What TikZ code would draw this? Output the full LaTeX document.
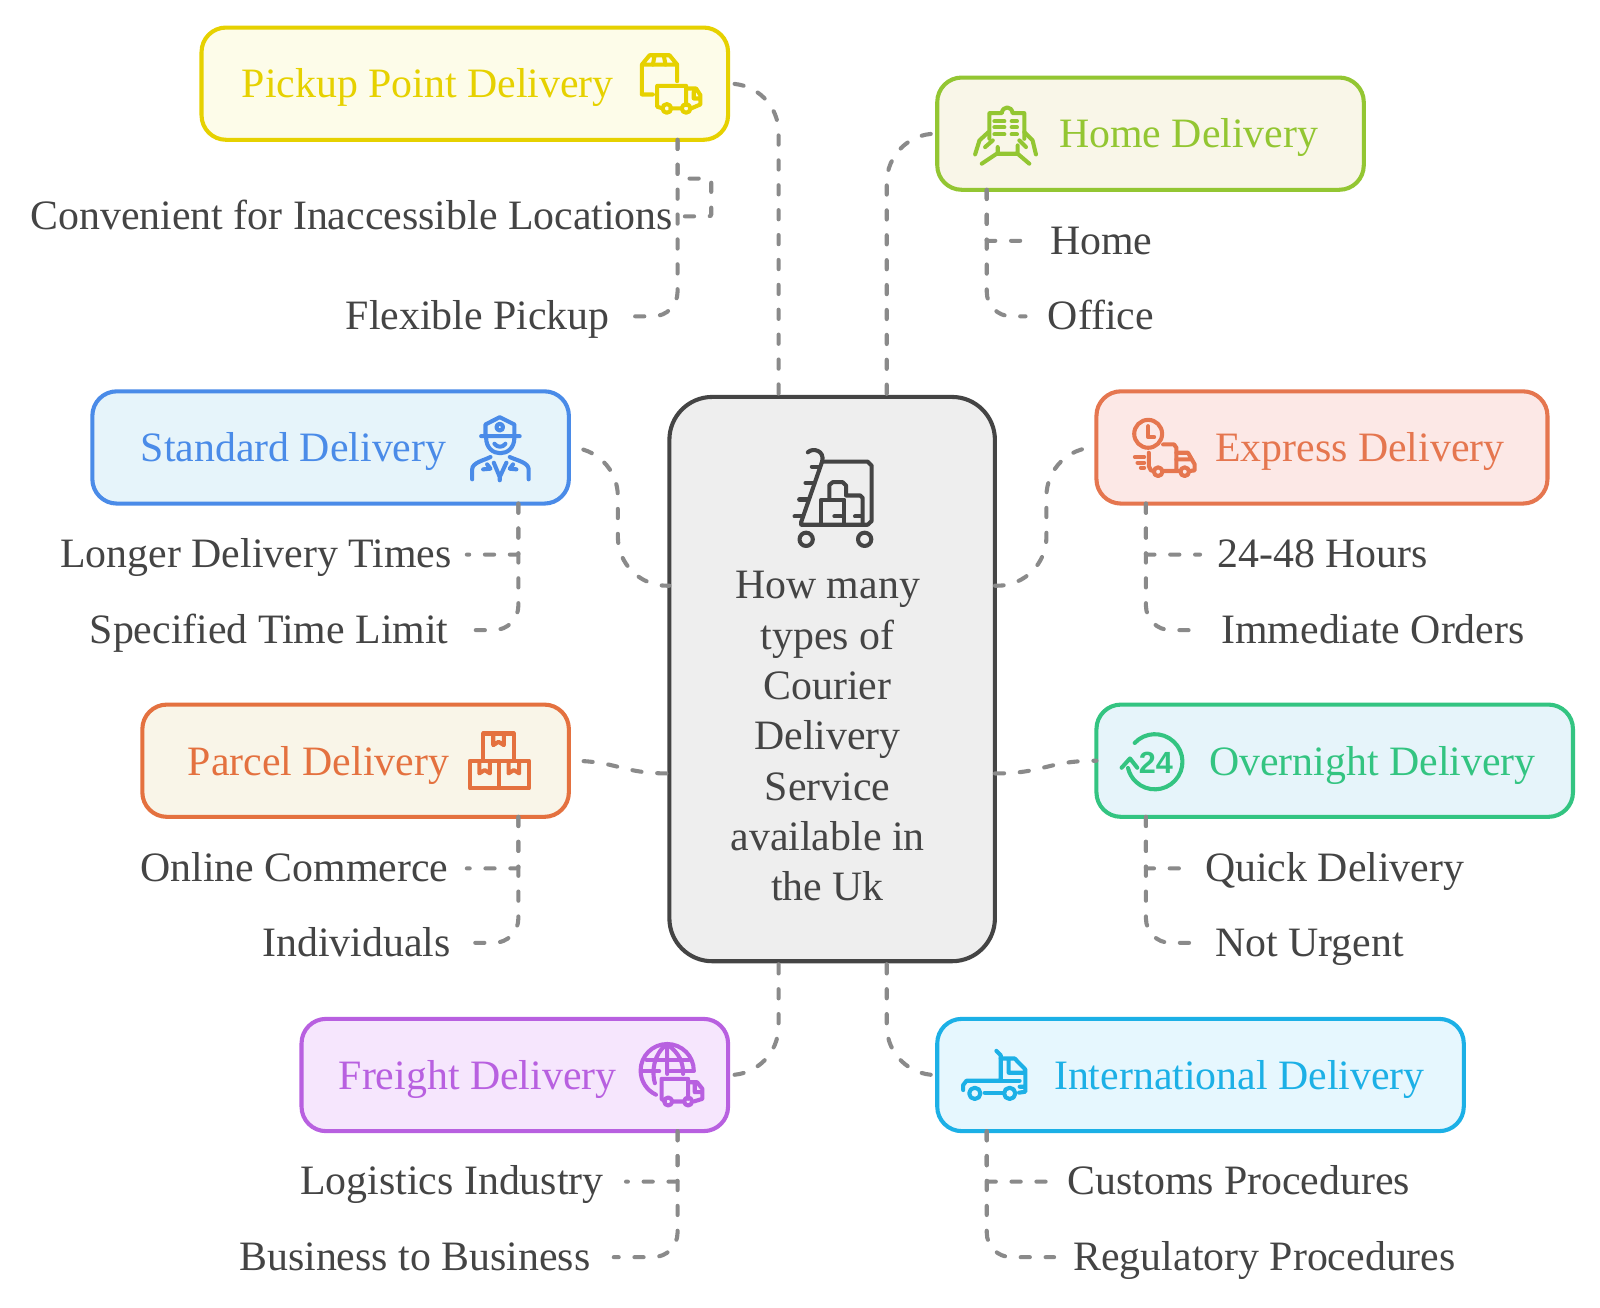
\documentclass[tikz,border=0pt]{standalone}
\usepackage{fontspec}
\setmainfont{Liberation Serif}
\newfontfamily\iconsans{Liberation Sans}
\usetikzlibrary{calc}
\definecolor{ink}{HTML}{444444}
\definecolor{conngray}{HTML}{8A8A8A}
\definecolor{cYel}{HTML}{E6D100}\definecolor{fYel}{HTML}{FDFCE9}
\definecolor{cGrn}{HTML}{93C632}\definecolor{fGrn}{HTML}{F9F6E8}
\definecolor{cBlu}{HTML}{4A8BE8}\definecolor{fBlu}{HTML}{E6F4FA}
\definecolor{cExp}{HTML}{E5764F}\definecolor{fExp}{HTML}{FCE8E6}
\definecolor{cPar}{HTML}{E4713F}\definecolor{fPar}{HTML}{F9F5E8}
\definecolor{cOvr}{HTML}{33C481}\definecolor{fOvr}{HTML}{E6F4FA}
\definecolor{cFre}{HTML}{B860E0}\definecolor{fFre}{HTML}{F6E6FD}
\definecolor{cInt}{HTML}{1CB0E6}\definecolor{fInt}{HTML}{E6F7FE}
\tikzset{
  txt/.style={font=\fontsize{41}{49}\selectfont,text height=32pt,text depth=6pt,inner sep=0pt,outer sep=0pt},
  lab/.style={txt,text=ink},
  catbox/.style n args={3}{txt,text height=33pt,text depth=5pt,draw=#1,fill=#2,text=#1,line width=4pt,rounded corners=24pt,minimum height=110pt,text width=#3,align=flush left},
  hub/.style={draw=ink,fill=black!6.5,line width=4pt,rounded corners=42pt,minimum width=319pt,minimum height=553pt,inner sep=0pt,outer sep=0pt,text=ink},
  conn/.style={draw=conngray,line width=4pt,line cap=round,dash pattern=on 9pt off 15.4pt},
  connGap/.style={conn,dash phase=18pt},
  connSide/.style={conn,dash phase=10pt},
  icon/.style={line width=4pt,line cap=round,line join=round},
  small/.style={shift={(#1)},x=0.3256pt,y=-0.3256pt}
}
\begin{document}
\begin{tikzpicture}[x=1pt,y=-1pt]
\useasboundingbox[fill=white] (0,0) rectangle (1568,1280.9);

% hub
\node[hub] (center) at (815.5,665.5) {\hspace{-9pt}\fontsize{41}{49.3}\selectfont\begin{tabular}{@{}c@{}}\rule{0pt}{104pt}\\How many\\types of\\Courier\\Delivery\\Service\\available in\\the Uk\end{tabular}};

% category boxes
\node[catbox={cYel}{fYel}{516pt}] (pick) at (455.5,82) {\hspace*{39.5pt}Pickup Point Delivery};
\node[catbox={cGrn}{fGrn}{418pt}] (home) at (1127.5,131) {\hspace*{119.5pt}Home Delivery};
\node[catbox={cBlu}{fBlu}{467pt}] (std) at (324,438.5) {\hspace*{47.5pt}Standard Delivery};
\node[catbox={cExp}{fExp}{442pt}] (exp) at (1295.5,438.5) {\hspace*{116.5pt}Express Delivery};
\node[catbox={cPar}{fPar}{418pt}] (parcel) at (348.5,745.5) {\hspace*{44.5pt}Parcel Delivery};
\node[catbox={cOvr}{fOvr}{467pt}] (over) at (1308,745.5) {\hspace*{110.5pt}Overnight Delivery};
\node[catbox={cFre}{fFre}{418pt}] (freight) at (504.5,1053.5) {\hspace*{36.5pt}Freight Delivery};
\node[catbox={cInt}{fInt}{516pt}] (intl) at (1176.5,1053.5) {\hspace*{114.5pt}International Delivery};

% leaf labels
\node[lab,anchor=east] (conv) at (659.5,212) {Convenient for Inaccessible Locations};
\node[lab,anchor=east] (flex) at (597.5,310) {Flexible Pickup};
\node[lab,anchor=west] (homeA) at (1029,236) {Home};
\node[lab,anchor=west] (homeB) at (1027,310) {Office};
\node[lab,anchor=east] (stdA) at (442.5,543.5) {Longer Delivery Times};
\node[lab,anchor=east] (stdB) at (439.5,617.5) {Specified Time Limit};
\node[lab,anchor=west] (expA) at (1193,543.5) {24-48 Hours};
\node[lab,anchor=west] (expB) at (1197,617.5) {Immediate Orders};
\node[lab,anchor=east] (parA) at (439.5,851) {Online Commerce};
\node[lab,anchor=east] (parB) at (441.5,924) {Individuals};
\node[lab,anchor=west] (ovrA) at (1181,851) {Quick Delivery};
\node[lab,anchor=west] (ovrB) at (1191,924) {Not Urgent};
\node[lab,anchor=east] (freA) at (591.5,1158) {Logistics Industry};
\node[lab,anchor=east] (freB) at (578.5,1232) {Business to Business};
\node[lab,anchor=west] (intA) at (1046,1158) {Customs Procedures};
\node[lab,anchor=west] (intB) at (1052,1232) {Regulatory Procedures};

% attachment points
\coordinate (cTL) at ($(center.north)+(-52.5,0)$);
\coordinate (cTR) at ($(center.north)+(53.5,0)$);
\coordinate (cBL) at ($(center.south)+(-52.5,0)$);
\coordinate (cBR) at ($(center.south)+(53.5,0)$);
\coordinate (cLu) at ($(center.west)+(0,-91.5)$);
\coordinate (cRu) at ($(center.east)+(0,-91.5)$);
\coordinate (cLd) at ($(center.west)+(0,92.5)$);
\coordinate (cRd) at ($(center.east)+(0,92.5)$);
\coordinate (pickT) at ($(pick.south)+(208.5,0)$);
\coordinate (homeT) at ($(home.south)+(-160.5,0)$);
\coordinate (stdT) at ($(std.south)+(184,0)$);
\coordinate (expT) at ($(exp.south)+(-172.5,0)$);
\coordinate (parT) at ($(parcel.south)+(159.5,0)$);
\coordinate (ovrT) at ($(over.south)+(-185,0)$);
\coordinate (freT) at ($(freight.south)+(159.5,0)$);
\coordinate (intT) at ($(intl.south)+(-209.5,0)$);

% main connectors
\draw[connGap,rounded corners=48pt] (pick.east) -| (cTL);
\draw[connGap,rounded corners=48pt] (home.west) -| (cTR);
\draw[connGap,rounded corners=48pt] (freight.east) -| (cBL);
\draw[connGap,rounded corners=48pt] (intl.west) -| (cBR);
\draw[connSide,rounded corners=48pt] (std.east) -- ++(48,0) |- (cLu);
\draw[connSide,rounded corners=48pt] (exp.west) -- ++(-49,0) |- (cRu);
\draw[connSide] (parcel.east) .. controls +(49,0) and +(-49,0) .. (cLd);
\draw[conn] (cRd) .. controls +(49,0) and +(-49,0) .. (over.west);

% leaf connectors
\draw[conn,rounded corners=2pt] (pickT) -- ++(0,38) -- ++(33,0) |- ($(conv.east)+(7,0)$);
\draw[conn,rounded corners=24pt] (pickT) |- ($(flex.east)+(21,0)$);
\draw[conn,rounded corners=1pt] (homeT) |- ($(homeA.west)+(-24,0)$);
\draw[conn,rounded corners=24pt] (homeT) |- ($(homeB.west)+(-22,0)$);
\draw[conn,rounded corners=1pt] (stdT) |- ($(stdA.east)+(15,0)$);
\draw[conn,rounded corners=24pt] (stdT) |- ($(stdB.east)+(24,0)$);
\draw[conn,rounded corners=1pt] (expT) |- ($(expA.west)+(-17,0)$);
\draw[conn,rounded corners=24pt] (expT) |- ($(expB.west)+(-25,0)$);
\draw[conn,rounded corners=1pt] (parT) |- ($(parA.east)+(18,0)$);
\draw[conn,rounded corners=24pt] (parT) |- ($(parB.east)+(22,0)$);
\draw[conn,rounded corners=1pt] (ovrT) |- ($(ovrA.west)+(-21,0)$);
\draw[conn,rounded corners=24pt] (ovrT) |- ($(ovrB.west)+(-21,0)$);
\draw[conn,rounded corners=1pt] (freT) |- ($(freA.east)+(22,0)$);
\draw[conn,rounded corners=24pt] (freT) |- ($(freB.east)+(23,0)$);
\draw[conn,rounded corners=1pt] (intT) |- ($(intA.west)+(-16,0)$);
\draw[conn,rounded corners=24pt] (intT) |- ($(intB.west)+(-19,0)$);

% hub icon: cart
\begin{scope}[small={648.4,383},icon,draw=ink]
\draw (440,185) .. controls (455,170) and (492,180) .. (483,213) -- (420,395) -- (420,403) -- (620,403) -- (632,392) -- (632,225) -- (620,213) -- (483,213);
\draw (452,228)--(475,228) (433,277)--(457,277) (414,327)--(440,327) (400,378)--(425,378);
\draw (480,403)--(480,328)--(550,328)--(550,403);
\draw (505,325)--(505,283)--(515,275)--(545,275)--(555,285)--(555,315)--(598,315)--(605,322)--(605,400);
\draw (520,378)--(540,378) (582,378)--(598,378);
\draw (435,447) circle[radius=20] (611,447) circle[radius=20];
\end{scope}

% pickup icon
\begin{scope}[small={615.4,44.4},icon,draw=cYel]
\draw (42,58)--(65,30)--(125,30)--(148,58)--(42,58)--(42,148)--(75,148);
\draw (148,58)--(148,108) (80,32)--(75,58) (108,32)--(113,58);
\draw (105,190)--(88,185)--(88,122)--(175,122)--(175,180) (128,190)--(160,190);
\draw (178,130)--(205,130)--(218,150)--(218,178)--(190,190) (198,140)--(198,160)--(215,160);
\draw (117,190) circle[radius=13] (175,190) circle[radius=13];
\end{scope}

% home icon
\begin{scope}[small={945.2,95.3},icon,draw=cGrn]
\draw (75,125)--(75,48)--(112,48) .. controls (115,25) and (142,25) .. (145,48) -- (180,48)--(180,125);
\draw (90,72)--(120,72) (90,90)--(120,90) (90,112)--(120,112) (142,72)--(158,72) (142,90)--(158,90) (142,112)--(158,112);
\draw (72,105)--(45,130)--(32,172) (85,130)--(62,150);
\draw (52,200)--(100,168)--(100,150) (100,170)--(160,170) (195,200)--(160,170)--(160,145);
\draw (180,105)--(205,130)--(215,172) (165,130)--(185,150);
\end{scope}

% standard icon
\begin{scope}[small={431.8,393.2},icon,draw=cBlu]
\draw (135,100)--(135,70)--(178,48)--(222,70)--(222,100) (122,105)--(238,105);
\draw (178,78) circle[radius=10];
\draw (137,110) .. controls (137,172) and (222,172) .. (222,110);
\draw (162,128) .. controls (170,140) and (188,140) .. (195,128);
\draw (95,235)--(95,205) .. controls (95,185) and (130,178) .. (150,168);
\draw (265,235)--(265,205) .. controls (265,185) and (230,178) .. (208,168);
\draw (160,185)--(178,228)--(198,185) (178,228)--(178,238);
\draw (128,205)--(150,203)--(140,190) (228,205)--(208,203)--(218,190);
\end{scope}

% express icon
\begin{scope}[small={1102.4,403},icon,draw=cExp]
\draw (70,68) circle[radius=42];
\draw (70,45)--(70,78)--(88,78);
\draw (115,100)--(148,100)--(155,110)--(155,178) (72,125)--(72,165)--(78,178)--(88,180) (112,180)--(168,180);
\draw (155,125)--(190,125)--(210,160)--(210,178)--(194,180) (155,145)--(200,145);
\draw (100,182) circle[radius=13] (180,182) circle[radius=13];
\draw (30,138)--(58,138) (38,155)--(58,155) (48,170)--(58,170);
\end{scope}

% parcel icon
\begin{scope}[small={431.3,705.8},icon,draw=cPar]
\draw (130,122)--(130,40)--(222,40)--(222,122);
\draw (90,122) rectangle (178,205) (178,122) rectangle (268,205);
\draw (160,45)--(160,75)--(176,65)--(192,75)--(192,45);
\draw (118,125)--(118,160)--(134,150)--(150,160)--(150,125);
\draw (206,125)--(206,160)--(222,150)--(238,160)--(238,125);
\end{scope}

% overnight icon
\begin{scope}[small={1087.8,706.8},icon,draw=cOvr]
\draw (135,122) ++(-137:83) arc[start angle=-137,end angle=167,radius=83];
\draw (35,140)--(60,112)--(82,140);
\node[inner sep=0pt,text=cOvr,font=\iconsans\bfseries\fontsize{30}{30}\selectfont] (clock24) at (138,124) {24};
\end{scope}

% freight icon
\begin{scope}[small={607.6,1010.1},icon,draw=cFre]
\draw (222,120) arc[start angle=0,end angle=-245,radius=80];
\draw (142,40)--(142,130) (142,40) .. controls (100,70) and (95,125) .. (105,158) (142,40) .. controls (180,70) and (190,95) .. (190,130);
\draw (80,88)--(208,88) (65,122)--(118,122) (150,122)--(222,122);
\draw (135,213)--(125,205)--(125,145)--(205,145)--(205,205) (158,213)--(193,213);
\draw (205,155)--(232,155)--(248,175)--(248,205)--(222,213) (225,160)--(225,185)--(248,185);
\draw (145,213) circle[radius=12] (205,213) circle[radius=12];
\end{scope}

% international icon
\begin{scope}[small={932.5,1019.4},icon,draw=cInt]
\draw (135,32)--(148,45)--(148,122)--(45,122)--(35,135)--(35,150);
\draw (70,160) circle[radius=17] (175,160) circle[radius=17];
\draw (100,158)--(155,158);
\draw (148,55)--(190,55)--(222,88)--(222,155)--(203,158) (172,55)--(172,98)--(218,98) (205,140)--(222,140);
\draw (148,122)--(205,122);
\end{scope}
\end{tikzpicture}
\end{document}
